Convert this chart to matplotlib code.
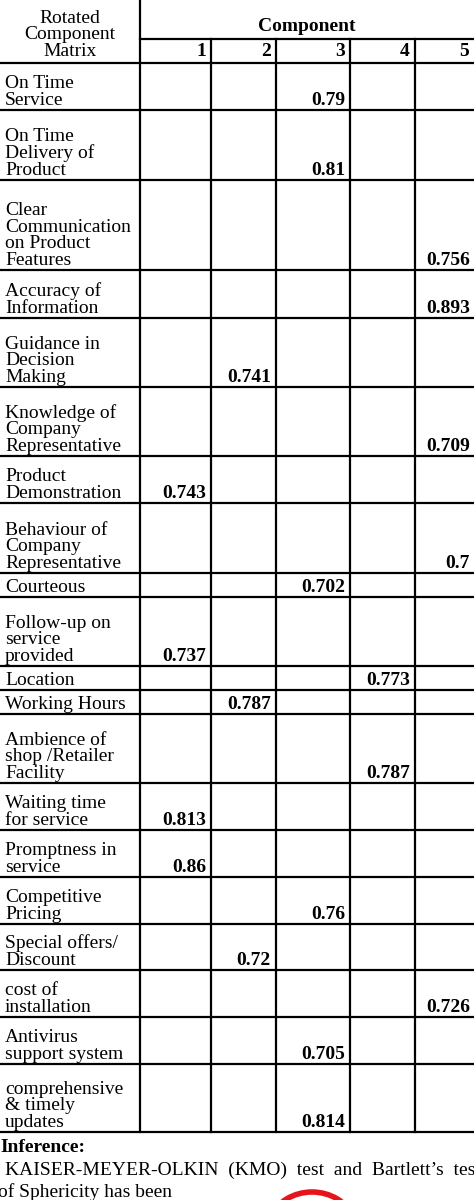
import matplotlib
matplotlib.use("Agg")
import matplotlib.pyplot as plt
from matplotlib.patches import Arc

rows = ["On Time\nService", "On Time\nDelivery of\nProduct", "Clear\nCommunication\non Product\nFeatures",
        "Accuracy of\nInformation", "Guidance in\nDecision\nMaking", "Knowledge of\nCompany\nRepresentative",
        "Product\nDemonstration", "Behaviour of\nCompany\nRepresentative", "Courteous",
        "Follow-up on\nservice\nprovided", "Location", "Working Hours", "Ambience of\nshop /Retailer\nFacility",
        "Waiting time\nfor service", "Promptness in\nservice", "Competitive\nPricing", "Special offers/\nDiscount",
        "cost of\ninstallation", "Antivirus\nsupport system", "comprehensive\n& timely\nupdates"]
comp = [3, 3, 5, 5, 2, 5, 1, 5, 3, 1, 4, 2, 4, 1, 1, 3, 2, 5, 3, 3]
vals = ["0.79", "0.81", "0.756", "0.893", "0.741", "0.709", "0.743", "0.7", "0.702", "0.737",
        "0.773", "0.787", "0.787", "0.813", "0.86", "0.76", "0.72", "0.726", "0.705", "0.814"]
comp_labels = ["1", "2", "3", "4", "5"]

row_bottoms = [110, 180, 270, 318, 387, 456, 503, 573, 597, 666, 690, 714, 783, 830, 877, 924, 970, 1017, 1064, 1132]
col_x = [0, 140, 211, 276, 350, 415, 474]

fig = plt.figure(figsize=(4.74, 12), dpi=100)
ax = fig.add_axes([0, 0, 1, 1])
ax.set_xlim(0, 474); ax.set_ylim(1200, 0); ax.axis("off")
F = "Liberation Serif"
fs = 14
ls = 0.98
lw = 1.6

ax.plot([140, 140], [0, 1132], color="black", lw=lw)
ax.plot([140, 474], [39, 39], color="black", lw=lw)
for x in col_x[2:-1]:
    ax.plot([x, x], [39, 1132], color="black", lw=lw)
ax.plot([0, 474], [63, 63], color="black", lw=lw)
for yb in row_bottoms:
    ax.plot([0, 474], [yb, yb], color="black", lw=lw)

ax.text(70, 60, "Rotated\nComponent\nMatrix", ha="center", va="bottom", family=F, fontsize=fs, linespacing=ls)
ax.text(307, 35, "Component", ha="center", va="bottom", family=F, fontsize=fs, weight="bold")
for i, lab in enumerate(comp_labels):
    ax.text(col_x[i + 2] - 5, 60, lab, ha="right", va="bottom", family=F, fontsize=fs, weight="bold")

for lab, c, v, yb in zip(rows, comp, vals, row_bottoms):
    ax.text(5, yb - 1, lab, ha="left", va="bottom", family=F, fontsize=fs, linespacing=ls)
    ax.text(col_x[c + 1] - 5 if c < 5 else 470, yb - 1, v, ha="right", va="bottom",
            family=F, fontsize=fs, weight="bold")

ax.text(0, 1156, "Inference:", ha="left", va="bottom", family=F, fontsize=fs, weight="bold")
ax.text(5, 1179, "KAISER-MEYER-OLKIN  (KMO)  test  and  Bartlett\u2019s  test", ha="left", va="bottom",
        family=F, fontsize=fs)
ax.text(-2, 1201, "of Sphericity has been", ha="left", va="bottom", family=F, fontsize=fs)
ax.add_patch(Arc((312, 1232), 90, 80, theta1=200, theta2=340, color="#e8141c", lw=4))

fig.savefig("out.png", dpi=100)
